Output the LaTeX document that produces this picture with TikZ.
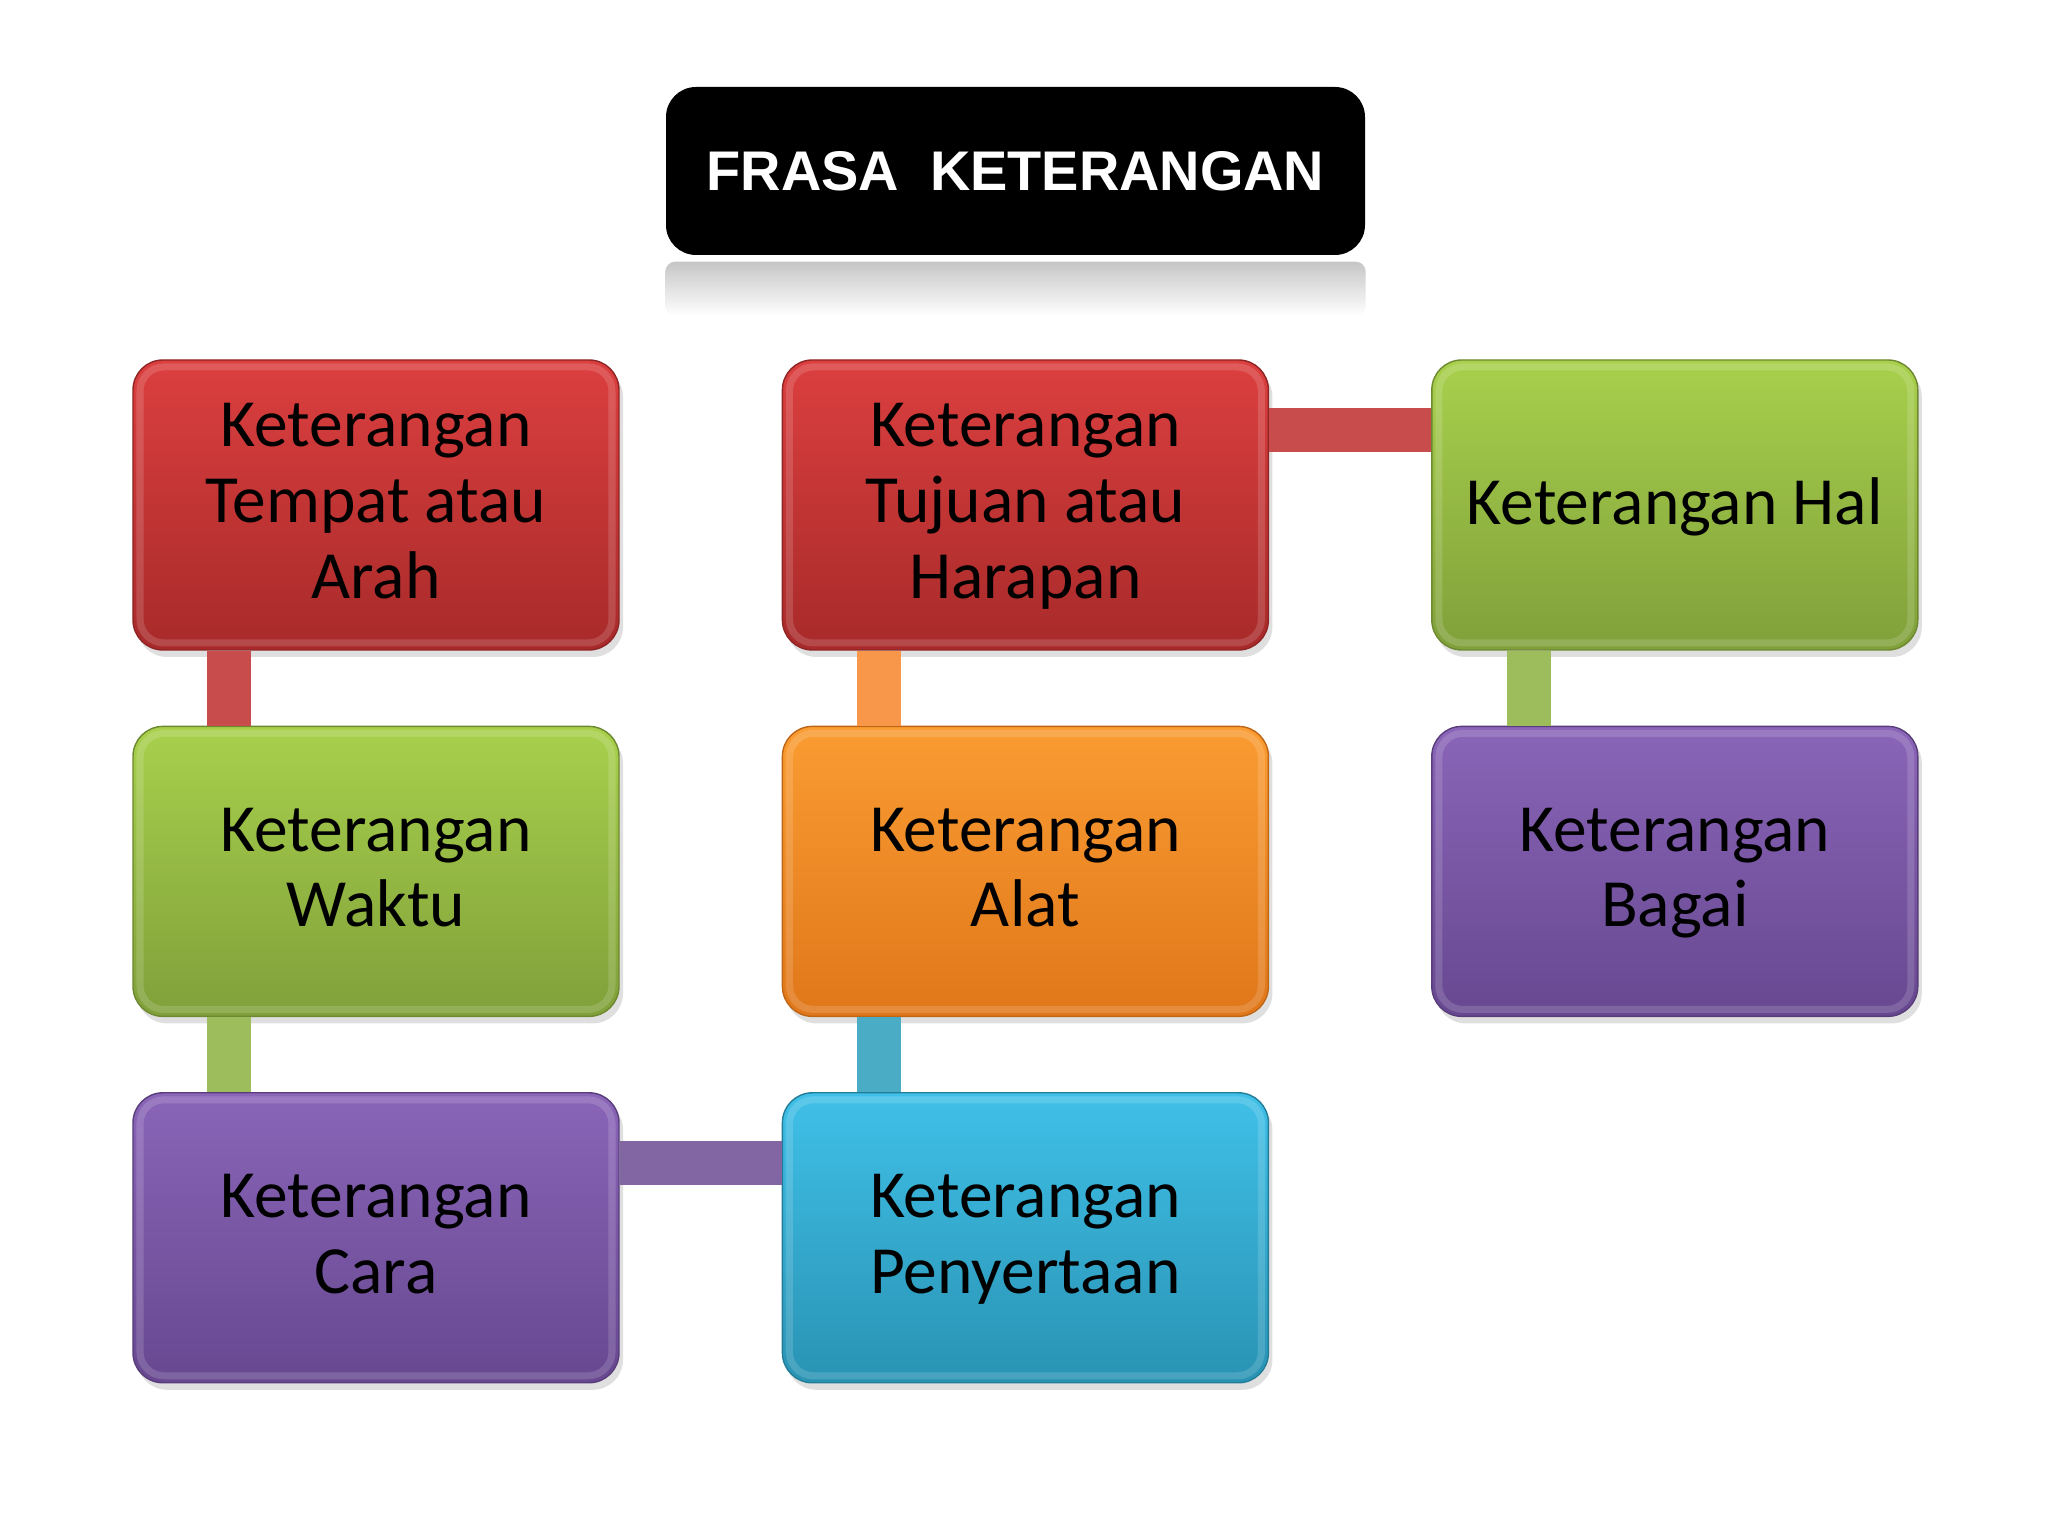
\documentclass[tikz,border=0pt]{standalone}
\usepackage{fontspec}
\setmainfont{Carlito}
\newfontfamily\titlefont{Liberation Sans}
\usetikzlibrary{positioning,shadows,calc}

\definecolor{redtop}{HTML}{DC3F3F}
\definecolor{redbot}{HTML}{A82A2A}
\definecolor{greentop}{HTML}{A8D04C}
\definecolor{greenbot}{HTML}{80A03A}
\definecolor{orangetop}{HTML}{FA9C32}
\definecolor{orangebot}{HTML}{E0771A}
\definecolor{purpletop}{HTML}{8A65B8}
\definecolor{purplebot}{HTML}{674890}
\definecolor{bluetop}{HTML}{40C0E8}
\definecolor{bluebot}{HTML}{2993B3}
\definecolor{redlink}{HTML}{C94C4C}
\definecolor{greenlink}{HTML}{9DBC5C}
\definecolor{orangelink}{HTML}{F8964A}
\definecolor{purplelink}{HTML}{8266A4}
\definecolor{bluelink}{HTML}{4BACC6}

\tikzset{
  kotak/.style={rectangle, rounded corners=0.3cm, minimum width=4.86cm,
    minimum height=2.9cm, align=center, font=\fontsize{19.2}{21.6}\selectfont,
    text depth=0.08cm,
    drop shadow={shadow xshift=0.04cm, shadow yshift=-0.07cm, opacity=0.25},
    path picture={\draw[white, opacity=0.15, line width=2pt, rounded corners=0.24cm]
      ([shift={(0.07,-0.07)}]path picture bounding box.north west) rectangle
      ([shift={(-0.07,0.07)}]path picture bounding box.south east);}},
  merah/.style={kotak, top color=redtop, bottom color=redbot, draw=redbot!85!black},
  hijau/.style={kotak, top color=greentop, bottom color=greenbot, draw=greenbot!85!black},
  jingga/.style={kotak, top color=orangetop, bottom color=orangebot, draw=orangebot!85!black},
  ungu/.style={kotak, top color=purpletop, bottom color=purplebot, draw=purplebot!85!black},
  biru/.style={kotak, top color=bluetop, bottom color=bluebot, draw=bluebot!85!black},
  sambung/.style={line width=0.44cm}
}

\begin{document}
\begin{tikzpicture}
  \useasboundingbox (0,0) rectangle (20.48,15.36);

  % title
  \node[rectangle, rounded corners=0.3cm, fill=black, minimum width=6.99cm,
    minimum height=1.68cm, text=white, font=\titlefont\bfseries\fontsize{15.9}{19}\selectfont]
    (judul) at (10.155,13.65) {FRASA\ \ KETERANGAN};
  % reflection of title
  \shade[top color=gray!45, bottom color=white, rounded corners=0.1cm]
    ([yshift=-0.06cm]judul.south west) rectangle ([yshift=-0.6cm]judul.south east);

  % boxes
  \node[merah] (tempat) at (3.76,10.31) {Keterangan\\Tempat atau\\Arah};
  \node[hijau, below=0.75cm of tempat] (waktu) {Keterangan\\Waktu};
  \node[ungu, below=0.75cm of waktu] (cara) {Keterangan\\Cara};
  \node[merah, right=1.62cm of tempat] (tujuan) {Keterangan\\Tujuan atau\\Harapan};
  \node[jingga, below=0.75cm of tujuan] (alat) {Keterangan\\Alat};
  \node[biru, below=0.75cm of alat] (sertaan) {Keterangan\\Penyertaan};
  \node[hijau, right=1.62cm of tujuan] (hal) {Keterangan Hal};
  \node[ungu, below=0.75cm of hal] (bagai) {Keterangan\\Bagai};

  % links
  \draw[sambung, redlink] ([xshift=0.97cm]tempat.south west) -- ([xshift=0.97cm]waktu.north west);
  \draw[sambung, greenlink] ([xshift=0.97cm]waktu.south west) -- ([xshift=0.97cm]cara.north west);
  \draw[sambung, purplelink] ([yshift=-0.71cm]cara.north east) -- ([yshift=-0.71cm]sertaan.north west);
  \draw[sambung, bluelink] ([xshift=0.97cm]sertaan.north west) -- ([xshift=0.97cm]alat.south west);
  \draw[sambung, orangelink] ([xshift=0.97cm]alat.north west) -- ([xshift=0.97cm]tujuan.south west);
  \draw[sambung, redlink] ([yshift=-0.71cm]tujuan.north east) -- ([yshift=-0.71cm]hal.north west);
  \draw[sambung, greenlink] ([xshift=0.98cm]hal.south west) -- ([xshift=0.98cm]bagai.north west);
\end{tikzpicture}
\end{document}
